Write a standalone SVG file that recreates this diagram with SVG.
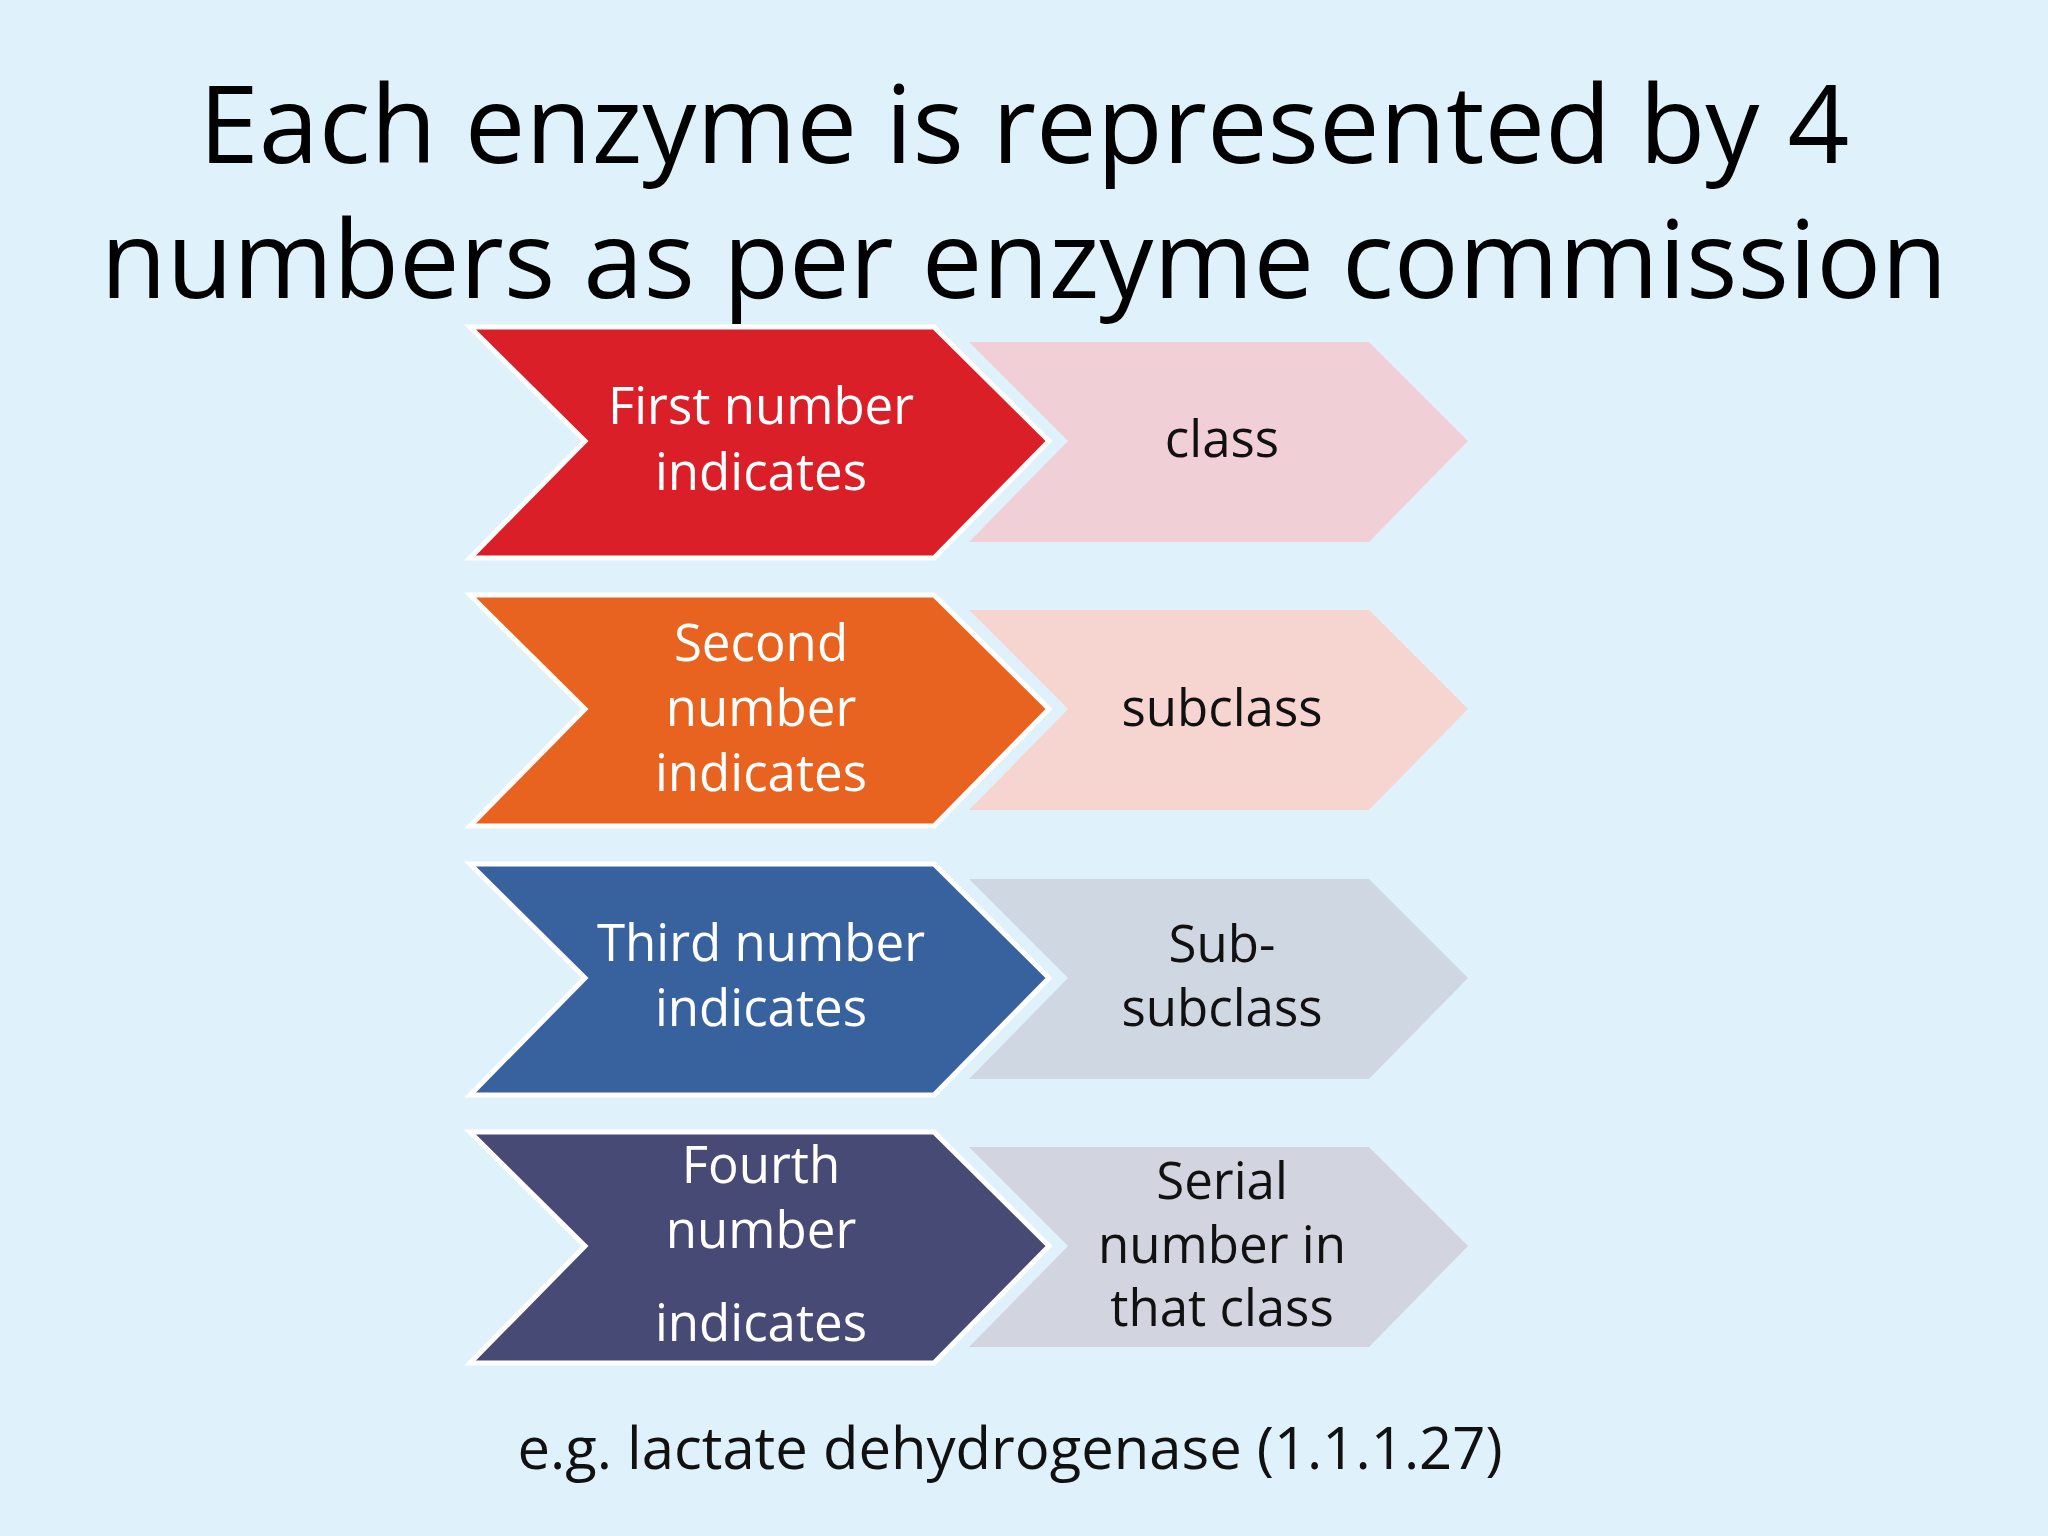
<svg xmlns="http://www.w3.org/2000/svg" width="2048" height="1536" viewBox="0 0 2048 1536">
<style>
.t{font-family:"Open Sans","Noto Sans",sans-serif;text-anchor:middle}
.w{fill:#fff;font-size:51px}
.k{fill:#111;font-size:51px}
.big{fill:#000;font-size:108px}
.dark{stroke:#fff;stroke-width:5}
</style>
<rect width="2048" height="1536" fill="#DFF2FB"/>
<text class="t big" x="1024" y="163">Each enzyme is represented by 4</text>
<text class="t big" x="1024" y="298">numbers as per enzyme commission</text>
<g id="row1">
<path d="M969,342H1369L1468,441L1369,542H969L1068,441Z" fill="#F0D0D6"/>
<path class="dark" d="M470,327H934L1049,441L934,558H470L585,441Z" fill="#DA1F28"/>
<text class="t w" x="761" y="424">First number</text><text class="t w" x="761" y="490">indicates</text>
<text class="t k" x="1222" y="457">class</text>
</g>
<g id="row2" transform="translate(0,268)">
<path d="M969,342H1369L1468,441L1369,542H969L1068,441Z" fill="#F6D5D1"/>
<path class="dark" d="M470,327H934L1049,441L934,558H470L585,441Z" fill="#E8631F"/>
<text class="t w" x="761" y="393">Second</text><text class="t w" x="761" y="458">number</text><text class="t w" x="761" y="523">indicates</text>
<text class="t k" x="1222" y="458">subclass</text>
</g>
<g id="row3" transform="translate(0,537)">
<path d="M969,342H1369L1468,441L1369,542H969L1068,441Z" fill="#CFD8E2"/>
<path class="dark" d="M470,327H934L1049,441L934,558H470L585,441Z" fill="#38629E"/>
<text class="t w" x="761" y="424">Third number</text><text class="t w" x="761" y="489">indicates</text>
<text class="t k" x="1222" y="425">Sub-</text><text class="t k" x="1222" y="489">subclass</text>
</g>
<g id="row4" transform="translate(0,805)">
<path d="M969,342H1369L1468,441L1369,542H969L1068,441Z" fill="#D2D5DF"/>
<path class="dark" d="M470,327H934L1049,441L934,558H470L585,441Z" fill="#474A74"/>
<text class="t w" x="761" y="378">Fourth</text><text class="t w" x="761" y="443">number</text><text class="t w" x="761" y="536">indicates</text>
<text class="t k" x="1222" y="394">Serial</text><text class="t k" x="1222" y="458">number in</text><text class="t k" x="1222" y="521">that class</text>
</g>
<g id="connectors"/>
<text class="t" x="1010" y="1469" font-size="58" fill="#111">e.g. lactate dehydrogenase (1.1.1.27)</text>
</svg>
